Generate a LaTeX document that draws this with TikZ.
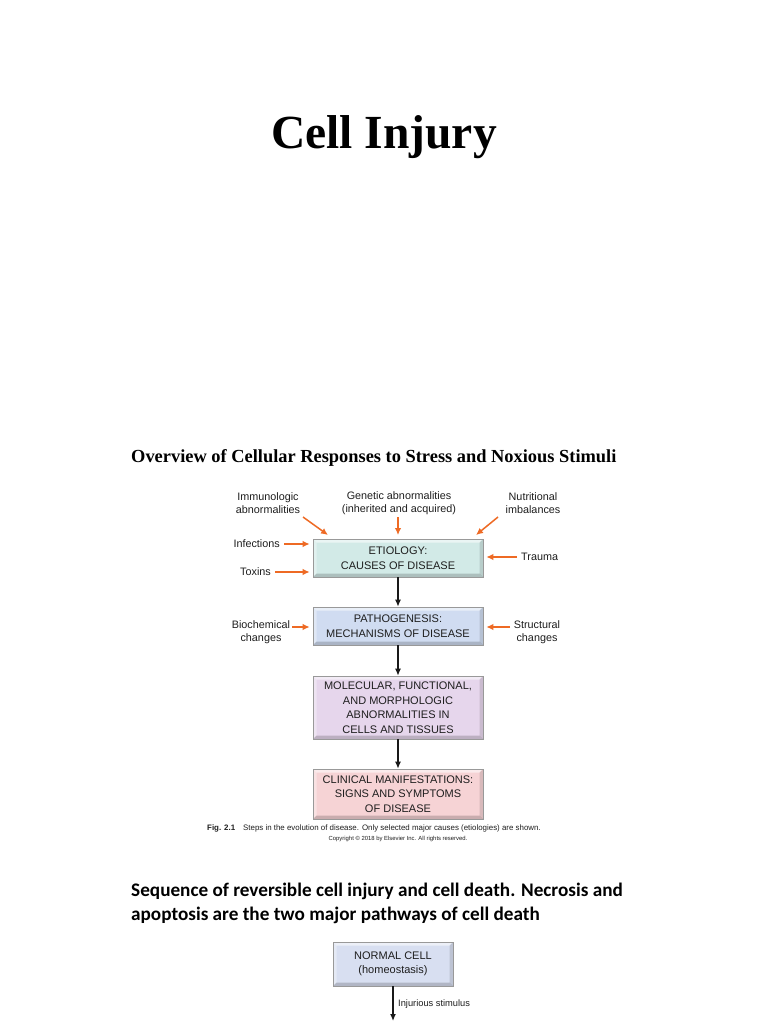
\documentclass[tikz,border=0pt]{standalone}
\usepackage{fontspec}
\setmainfont{Liberation Serif}
\newfontfamily\arialf{Liberation Sans}
\newfontfamily\calib{Carlito}
\usetikzlibrary{arrows.meta}
\definecolor{orng}{HTML}{EE6A24}
\definecolor{cEtio}{HTML}{D2EAE7}
\definecolor{cPath}{HTML}{D0DCF1}
\definecolor{cMol}{HTML}{E6D6EC}
\definecolor{cClin}{HTML}{F6D3D5}
\definecolor{cNorm}{HTML}{D8DFF1}
\definecolor{txt}{HTML}{1E1E1E}
\tikzset{
  bevel/.style={draw=black!40, line width=0.6pt, fill=#1, inner sep=0pt, align=center,
    text=txt, font=\arialf\fontsize{11}{14.5}\selectfont,
    path picture={
      \fill[white,opacity=0.55] (path picture bounding box.north west) -- (path picture bounding box.north east)
        -- ([xshift=-3.5pt,yshift=-3.5pt]path picture bounding box.north east)
        -- ([xshift=3.5pt,yshift=-3.5pt]path picture bounding box.north west) -- cycle;
      \fill[white,opacity=0.35] (path picture bounding box.north west) -- ([xshift=3.5pt,yshift=-3.5pt]path picture bounding box.north west)
        -- ([xshift=3.5pt,yshift=3.5pt]path picture bounding box.south west)
        -- (path picture bounding box.south west) -- cycle;
      \fill[black,opacity=0.18] (path picture bounding box.south west) -- (path picture bounding box.south east)
        -- ([xshift=-3.5pt,yshift=3.5pt]path picture bounding box.south east)
        -- ([xshift=3.5pt,yshift=3.5pt]path picture bounding box.south west) -- cycle;
      \fill[black,opacity=0.12] (path picture bounding box.north east) -- ([xshift=-3.5pt,yshift=-3.5pt]path picture bounding box.north east)
        -- ([xshift=-3.5pt,yshift=3.5pt]path picture bounding box.south east)
        -- (path picture bounding box.south east) -- cycle;
    }},
  lbl/.style={font=\arialf\fontsize{10.8}{12.5}\selectfont, text=txt, align=center, inner sep=0pt},
  oarr/.style={draw=orng, line width=1.5pt, -{Latex[length=7pt,width=6.5pt]}},
  barr/.style={draw=black!90, line width=1.3pt, -{Latex[length=7pt,width=6pt]}}
}
\begin{document}
\begin{tikzpicture}[x=1pt,y=-1pt]
\useasboundingbox (0,0) rectangle (768,1024);
\fill[white] (0,0) rectangle (768,1024);

\node[font=\bfseries\fontsize{47.5}{50}\selectfont, inner sep=0pt] (title) at (384,137) {Cell Injury};
\node[font=\bfseries\fontsize{18.4}{20}\selectfont, inner sep=0pt, anchor=base west] (ov) at (131,462) {Overview of Cellular Responses to Stress and Noxious Stimuli};

% boxes
\node[bevel=cEtio, minimum width=170pt, minimum height=38pt] (etio) at (398,558) {ETIOLOGY:\\CAUSES OF DISEASE};
\node[bevel=cPath, minimum width=170pt, minimum height=38pt] (path) at (398,626) {PATHOGENESIS:\\MECHANISMS OF DISEASE};
\node[bevel=cMol, minimum width=170pt, minimum height=63pt] (mol) at (398,707.5) {MOLECULAR, FUNCTIONAL,\\AND MORPHOLOGIC\\ABNORMALITIES IN\\CELLS AND TISSUES};
\node[bevel=cClin, minimum width=170pt, minimum height=50pt] (clin) at (398,794) {CLINICAL MANIFESTATIONS:\\SIGNS AND SYMPTOMS\\OF DISEASE};

\draw[barr] (etio.south) -- (path.north);
\draw[barr] (path.south) -- (mol.north);
\draw[barr] (mol.south) -- (clin.north);

% labels
\node[lbl] (immu) at (268,503) {Immunologic\\abnormalities};
\node[lbl] (gene) at (399,503) {Genetic abnormalities\\(inherited and acquired)};
\node[lbl] (nutr) at (533,503) {Nutritional\\imbalances};
\node[lbl, anchor=east] (infe) at (280,544) {Infections};
\node[lbl, anchor=east] (toxi) at (271,572) {Toxins};
\node[lbl, anchor=west] (trau) at (521,557) {Trauma};
\node[lbl] (bioc) at (261,632) {Biochemical\\changes};
\node[lbl] (stru) at (537,632) {Structural\\changes};

\coordinate (immuA) at (303,517); \coordinate (immuB) at (328,535);
\coordinate (geneA) at (398,517); \coordinate (geneB) at (398,535);
\coordinate (nutrA) at (498,517); \coordinate (nutrB) at (476,535);
\draw[oarr] (immuA) -- (immuB);
\draw[oarr] (geneA) -- (geneB);
\draw[oarr] (nutrA) -- (nutrB);
\draw[oarr] ([xshift=4pt]infe.east) -- ([xshift=-3pt]infe.east -| etio.west);
\draw[oarr] ([xshift=4pt]toxi.east) -- ([xshift=-3pt]toxi.east -| etio.west);
\draw[oarr] ([xshift=-4pt]trau.west) -- ([xshift=3pt]trau.west -| etio.east);
\coordinate (biocA) at (292,627); \coordinate (strA) at (510,627);
\draw[oarr] (biocA) -- ([xshift=-3pt]biocA -| path.west);
\draw[oarr] (strA) -- ([xshift=3pt]strA -| path.east);

% caption
\node[anchor=base west, inner sep=0pt, font=\arialf\fontsize{7.9}{9}\selectfont, text=txt] (cap) at (207,830) {\textbf{Fig. 2.1}\hspace{8pt}Steps in the evolution of disease. Only selected major causes (etiologies) are shown.};
\node[inner sep=0pt, font=\arialf\fontsize{5.9}{7}\selectfont, text=txt] (copy) at (398,839) {Copyright \textcopyright{} 2018 by Elsevier Inc. All rights reserved.};

% second section
\node[anchor=base west, inner sep=0pt, font=\calib\bfseries\fontsize{19.2}{24}\selectfont, align=left] (seq) at (131,920) {Sequence of reversible cell injury and cell death. Necrosis and\\apoptosis are the two major pathways of cell death};

\node[bevel=cNorm, minimum width=120pt, minimum height=44pt] (norm) at (393,964) {NORMAL CELL\\(homeostasis)};
\coordinate (bottom) at (393,1021);
\draw[barr] (norm.south) -- (bottom);
\node[anchor=west, inner sep=0pt, font=\arialf\fontsize{9.3}{11}\selectfont, text=txt] (inj) at (398,1004) {Injurious stimulus};
\end{tikzpicture}
\end{document}
